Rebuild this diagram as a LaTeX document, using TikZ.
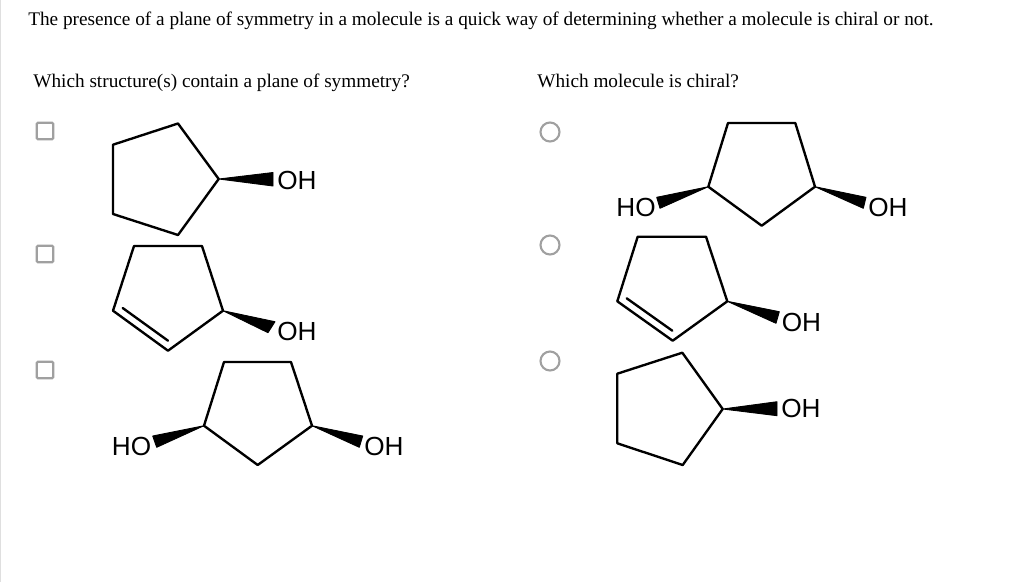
\documentclass[tikz,border=0pt]{standalone}
\usepackage{fontspec}
\setmainfont{Liberation Serif}
\newfontfamily\labelfont{Liberation Sans}
\definecolor{boxgray}{RGB}{160,160,160}
\tikzset{
    bond/.style={line width=1.35pt, black, line join=round, line cap=round},
    wedge/.style={fill=black, draw=black, line width=0.5pt, line join=round},
    question/.style={anchor=base west, inner sep=0pt, font=\fontsize{10.96pt}{13pt}\selectfont},
    atom/.style={anchor=center, inner sep=0pt, font=\labelfont\fontsize{14.9pt}{16pt}\selectfont},
    tickbox/.style={draw=boxgray, line width=1.3pt, rounded corners=0.6pt, minimum size=9.3pt, inner sep=0pt},
    radiobox/.style={draw=boxgray, circle, line width=1.2pt, minimum size=10.8pt, inner sep=0pt}
}
\begin{document}
\begin{tikzpicture}[x=0.02cm, y=-0.02cm]
    \useasboundingbox (0,0) rectangle (1024,582);
    % Page edge
    \draw[gray!25, line width=0.8pt] (0.5,0) -- (0.5,582);

    % Question texts
    \node[question] (intro) at (28,25.5) {The presence of a plane of symmetry in a molecule is a quick way of determining whether a molecule is chiral or not.};
    \node[question] (askplane) at (33,87.5) {Which structure(s) contain a plane of symmetry?};
    \node[question] (askchiral) at (537,87.5) {Which molecule is chiral?};

    % Check boxes
    \node[tickbox] (tickone) at (45,131) {};
    \node[tickbox] (ticktwo) at (45,254) {};
    \node[tickbox] (tickthree) at (45,370) {};

    % Radio buttons
    \node[radiobox] (radioone) at (550,132) {};
    \node[radiobox] (radiotwo) at (550,245) {};
    \node[radiobox] (radiothree) at (550,361) {};

    % Left, first ring
    \draw[bond] (178,123.5) -- (218.7,179) -- (178,235) -- (113,214) -- (113,144.7) -- cycle;
    \fill[wedge] (218.7,179) -- (273,172.5) -- (273,186) -- cycle;
    \node[atom] (ohone) at (297,180) {OH};

    % Left, second ring
    \draw[bond] (134,246) -- (202,246) -- (223,310.7) -- (168,350.7) -- (113,310.7) -- cycle;
    \draw[bond] (122.7,308) -- (168,340.7);
    \fill[wedge] (223,310.7) -- (275,321.7) -- (268,332.7) -- cycle;
    \node[atom] (ohtwo) at (297,331) {OH};

    % Left, third ring
    \draw[bond] (224,362) -- (291,362) -- (312,425.7) -- (257.7,465) -- (204,425.7) -- cycle;
    \fill[wedge] (204,425.7) -- (152.7,436) -- (156.7,447.3) -- cycle;
    \fill[wedge] (312,425.7) -- (362.7,436) -- (359.3,447.3) -- cycle;
    \node[atom] (hothree) at (131.5,446) {HO};
    \node[atom] (ohthree) at (384,446) {OH};

    % Right, first ring
    \draw[bond] (728,123) -- (795.3,123) -- (815,186.7) -- (761.7,225.7) -- (708.3,186.7) -- cycle;
    \fill[wedge] (708.3,186.7) -- (656.7,197.3) -- (660,208.3) -- cycle;
    \fill[wedge] (815,186.7) -- (866,197.3) -- (863.3,208.3) -- cycle;
    \node[atom] (hofour) at (636,207) {HO};
    \node[atom] (ohfour) at (888,207) {OH};

    % Right, second ring
    \draw[bond] (637.7,236.7) -- (706,236.7) -- (727.3,301.3) -- (672.7,340.7) -- (617.3,301.3) -- cycle;
    \draw[bond] (626.7,298.3) -- (672.3,330.7);
    \fill[wedge] (727.3,301.3) -- (779.3,311.7) -- (776,323.3) -- cycle;
    \node[atom] (ohfive) at (801.5,322) {OH};

    % Right, third ring
    \draw[bond] (682.3,352.7) -- (722.7,409) -- (682.7,465) -- (617.3,443.3) -- (617.3,373.7) -- cycle;
    \fill[wedge] (722.7,409) -- (777,401.7) -- (777,415.7) -- cycle;
    \node[atom] (ohsix) at (801,408) {OH};
\end{tikzpicture}
\end{document}
